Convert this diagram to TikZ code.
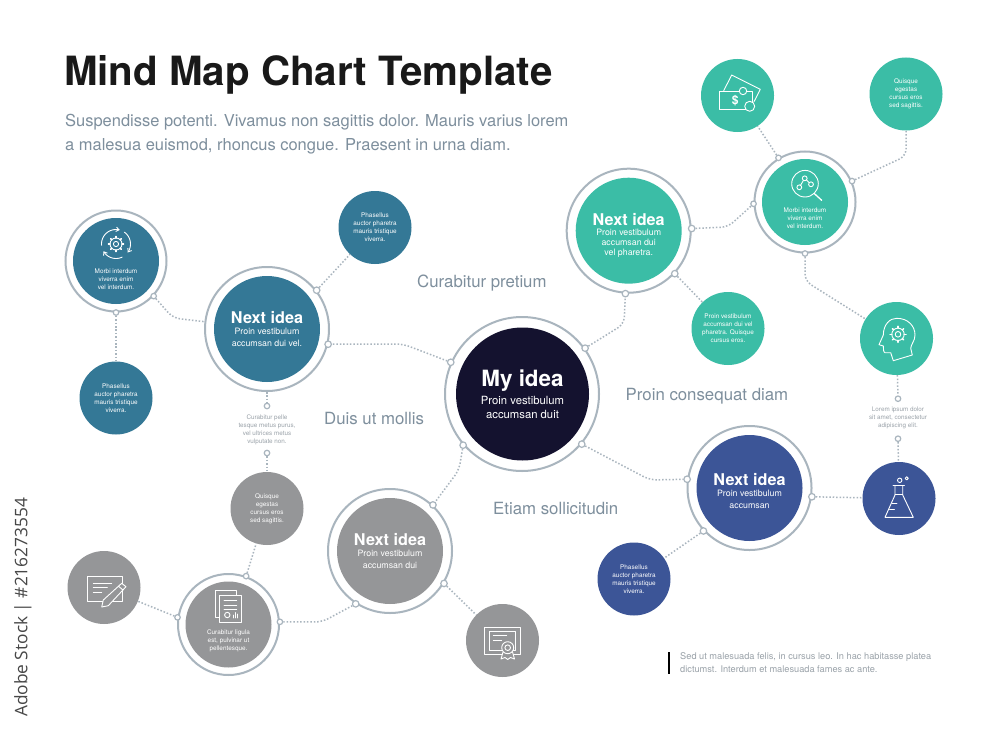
\documentclass[tikz,border=0pt]{standalone}
\usepackage{fontspec}
\setmainfont{TeX Gyre Heros}
\newfontfamily\stockfont{Open Sans}
\usetikzlibrary{positioning,calc,arrows.meta}

\definecolor{petrol}{HTML}{347896}
\definecolor{mint}{HTML}{3BBDA6}
\definecolor{stone}{HTML}{959698}
\definecolor{indigo}{HTML}{3C5597}
\definecolor{midnight}{HTML}{14122F}
\definecolor{ringgray}{HTML}{A9B5BE}
\definecolor{slate}{HTML}{7E8F9D}
\definecolor{captiongray}{HTML}{9AA2A9}
\newcommand{\ideahead}{\fontsize{16.2}{18}\bfseries\selectfont}

\begin{document}
\begin{tikzpicture}[
x=1pt,y=-1pt,
ringbig/.style={
circle,
inner sep=0pt,
minimum size=124pt,
line width=2pt,
draw=ringgray,
fill=white
},
ringsmall/.style={
ringbig,
minimum size=101pt
},
discbig/.style={
circle,
inner sep=0pt,
minimum size=106pt,
text=white,
align=center,
font=\fontsize{8.8}{11.5}\selectfont
},
discsmall/.style={
circle,
inner sep=0pt,
minimum size=73pt,
text=white,
align=center,
font=\fontsize{6.4}{8}\selectfont
},
discicon/.style={
discsmall,
minimum size=86pt
},
port/.style={
circle,
inner sep=0pt,
minimum size=6.5pt,
line width=1.2pt,
draw=ringgray,
fill=white
},
portsmall/.style={
port,
minimum size=5.5pt
},
link/.style={
draw=ringgray,
line width=1.5pt,
dash pattern=on 1.5pt off 1.9pt,
rounded corners=7pt
},
phrase/.style={
text=slate,
font=\fontsize{16.8}{19}\selectfont,
anchor=west,
inner sep=0pt
},
caption/.style={
text=captiongray,
align=center,
inner sep=0pt,
font=\fontsize{6.3}{8}\selectfont
},
icon/.style={
draw=white,
line width=0.9pt,
line join=round,
line cap=round
},
tip/.style={
-{Straight Barb[length=3pt,width=4.5pt]}
}]

\path[use as bounding box,fill=white] (0,0) rectangle (1000,733);

% heading
\node [anchor=west,inner sep=0pt,text=black!90,font=\fontsize{40.3}{44}\bfseries\selectfont] (title) at (64,75) {Mind Map Chart Template};
\node [anchor=north west,inner sep=0pt,text=slate,align=left,font=\fontsize{16.47}{24}\selectfont] (intro) at (65,114) {Suspendisse potenti. Vivamus non sagittis dolor. Mauris varius lorem\\a malesua euismod, rhoncus congue. Praesent in urna diam.};

% rings and discs
\node [ringbig,minimum size=154pt] (mainring) at (522,394) {};
\node [discbig,minimum size=133pt,fill=midnight,font=\fontsize{11.3}{14}\selectfont] (main) at (522.5,394) {{\fontsize{22.4}{25}\bfseries\selectfont My idea}\\[4pt]Proin vestibulum\\accumsan duit};

\node [ringbig] (petrolring) at (267,329) {};
\node [discbig,fill=petrol] (petrolidea) at (267,329) {{\ideahead Next idea}\\Proin vestibulum\\accumsan dui vel.};
\node [ringsmall] (cyclering) at (116,261) {};
\node [discicon,fill=petrol] (cycle) at (116,261) {};
\node [discsmall,fill=petrol] (phasa) at (375,227.5) {Phasellus\\auctor pharetra\\mauris tristique\\viverra.};
\node [discsmall,fill=petrol] (phasb) at (116,398) {Phasellus\\auctor pharetra\\mauris tristique\\viverra.};

\node [ringbig] (mintring) at (628.7,230.7) {};
\node [discbig,fill=mint,font=\fontsize{8.8}{10}\selectfont] (mintidea) at (628.7,230.7) {{\rule{0pt}{21pt}\ideahead Next idea}\\Proin vestibulum\\accumsan dui\\vel pharetra.};
\node [ringsmall] (searchring) at (805,202) {};
\node [discicon,fill=mint] (search) at (805,202) {};
\node [discsmall,fill=mint] (money) at (737.5,95.5) {};
\node [discsmall,fill=mint] (quisa) at (906,94) {Quisque\\egestas\\cursus eros\\sed sagittis.};
\node [discsmall,fill=mint] (proin) at (728,328.5) {Proin vestibulum\\accumsan dui vel\\pharetra. Quisque\\cursus eros.};
\node [discsmall,fill=mint] (head) at (896.5,338.5) {};

\node [ringbig] (indigoring) at (749.5,488) {};
\node [discbig,fill=indigo] (indigoidea) at (749.5,488) {{\rule{0pt}{18pt}\ideahead Next idea}\\Proin vestibulum\\accumsan};
\node [discsmall,fill=indigo] (flask) at (899,498.5) {};
\node [discsmall,fill=indigo] (phasc) at (634,579) {Phasellus\\auctor pharetra\\mauris tristique\\viverra.};

\node [ringbig] (stonering) at (390,551) {};
\node [discbig,fill=stone] (stoneidea) at (390,551) {{\ideahead Next idea}\\Proin vestibulum\\accumsan dui};
\node [ringsmall] (docring) at (228.5,624.5) {};
\node [discicon,fill=stone] (doc) at (228.5,624.5) {};
\node [discsmall,fill=stone] (quisb) at (267,508.5) {Quisque\\egestas\\cursus eros\\sed sagittis.};
\node [discsmall,fill=stone] (pen) at (104,587.5) {};
\node [discsmall,fill=stone] (cert) at (502.5,640.5) {};

% texts under the icons
\node [discsmall,minimum size=0pt] (cycletext) at (116,279.5) {Morbi interdum\\viverra enim\\vel interdum.};
\node [discsmall,minimum size=0pt] (searchtext) at (805,218.5) {Morbi interdum\\viverra enim\\vel interdum.};
\node [discsmall,minimum size=0pt] (doctext) at (228.5,641) {Curabitur ligula\\est, pulvinar ut\\pellentesque.};

% ports
\node [port] (mainp1) at (mainring.156.8) {};
\node [port] (mainp2) at (mainring.36) {};
\node [port] (mainp3) at (mainring.-40.8) {};
\node [port] (mainp4) at (mainring.-139) {};
\node [port] (petrolp1) at (petrolring.38.4) {};
\node [port] (petrolp2) at (petrolring.-14) {};
\node [portsmall] (cyclep1) at (cyclering.-43) {};
\node [portsmall] (cyclep2) at (cyclering.-90) {};
\node [port] (mintp1) at (mintring.2.5) {};
\node [port] (mintp2) at (mintring.-43.7) {};
\node [port] (mintp3) at (mintring.-93.5) {};
\node [portsmall] (searchp1) at (searchring.121) {};
\node [portsmall] (searchp2) at (searchring.24.5) {};
\node [portsmall] (searchp3) at (searchring.182) {};
\node [portsmall] (searchp4) at (searchring.-90) {};
\node [port] (indigop1) at (indigoring.172.6) {};
\node [port] (indigop2) at (indigoring.-8.3) {};
\node [port] (indigop3) at (indigoring.-137.3) {};
\node [port] (stonep1) at (stonering.-123.7) {};
\node [port] (stonep2) at (stonering.-31.6) {};
\node [port] (stonep3) at (stonering.47.6) {};
\node [portsmall] (docp1) at (docring.70.8) {};
\node [portsmall] (docp2) at (docring.172.7) {};
\node [portsmall] (docp3) at (docring.3) {};

% captions with their two ports
\node [portsmall] (capap) at (267,406) {};
\node [caption,below=5pt of capap] (capa) {Curabitur pelle\\tesque metus purus,\\vel ultrices metus\\vulputate non.};
\node [portsmall] (capaq) at (267,453) {};
\node [portsmall] (capbp) at (898,398.7) {};
\node [caption,below=5pt of capbp] (capb) {Lorem ipsum dolor\\sit amet, consectetur\\adipiscing elit.};
\node [portsmall] (capbq) at (898,438.7) {};

% connectors
\draw[link] (mainp1) -- (403,344) -- (petrolp2);
\draw[link] (mainp2) -- (624,324) -- (mintp3);
\draw[link] (mainp3) -- (650,480) -- (indigop1);
\draw[link] (mainp4) -- (459,470) -- (stonep3);

\draw[link] (cyclep1) -- (173,318) -- (petrolring);
\draw[link] (petrolp1) -- (phasa);
\draw[link] (cyclep2) -- (phasb);
\draw[link] (petrolring) -- (capap);
\draw[link] (capaq) -- (quisb);

\draw[link] (mintp1) -- (728,227) -- (searchp3);
\draw[link] (mintp2) -- (proin);
\draw[link] (searchp1) -- (money);
\draw[link] (searchp2) -- (906,156) -- (quisa);
\draw[link] (searchp4) -- (805,281) -- (head);
\draw[link] (head) -- (capbp);
\draw[link] (capbq) -- (flask);

\draw[link] (indigop2) -- (flask);
\draw[link] (indigop3) -- (phasc);

\draw[link] (stonep1) -- (322,622) -- (docp3);
\draw[link] (stonep2) -- (cert);
\draw[link] (docp1) -- (quisb);
\draw[link] (docp2) -- (pen);

% phrases
\node [phrase] (phrasea) at (417,283.5) {Curabitur pretium};
\node [phrase] (phraseb) at (625.5,396) {Proin consequat diam};
\node [phrase] (phrasec) at (324,418.5) {Duis ut mollis};
\node [phrase] (phrased) at (493,508) {Etiam sollicitudin};

% footnote
\node [anchor=north west,inner sep=0pt,text=captiongray,align=left,font=\fontsize{9.23}{13}\selectfont] (note) at (680,652.5) {Sed ut malesuada felis, in cursus leo. In hac habitasse platea\\dictumst. Interdum et malesuada fames ac ante.};
\coordinate (bara) at (669,652);
\coordinate (barb) at (669,674);
\draw[line width=1.3pt,black] (bara) -- (barb);

% stock line
\node [rotate=90,anchor=west,inner sep=0pt,text=black!72,font=\stockfont\fontsize{17.3}{19}\selectfont] (stock) at (23,717) {Adobe Stock | \#216273554};

% cycle icon
\begin{scope}[shift={(116,244)},icon]
\draw (0,0) circle[radius=2.6];
\draw (0,0) circle[radius=6];
\foreach \a in {0,45,...,315} \draw[line width=1.5pt] (\a:6) -- (\a:7.6);
\draw[tip] plot[domain=175:285,samples=16] (\x:14.5);
\draw[tip] plot[domain=-55:36,samples=14] (\x:14.5);
\draw[tip] plot[domain=65:150,samples=14] (\x:14.5);
\end{scope}

% money icon
\begin{scope}[icon]
\draw (723.7,90.7) -- (731.7,75) -- (760.3,89.3) -- (754,101.7);
\draw[fill=mint] (719.3,91) rectangle (752.3,109.3);
\draw[fill=mint] (743,91) circle[radius=3.7];
\draw[fill=mint] (749.7,106.3) circle[radius=5];
\node [draw=none,inner sep=0pt,text=white,font=\fontsize{12}{12}\bfseries\selectfont] (dollar) at (735.3,100.3) {\$};
\end{scope}

% search icon
\begin{scope}[icon]
\draw (805,183.7) circle[radius=13.3];
\draw[line width=1.3pt] (814,193.3) -- (821.7,200.3);
\draw (799.3,187.3) -- (804.7,178.3) -- (811,184.3);
\draw[fill=mint] (799.3,187.3) circle[radius=2.4];
\draw[fill=mint] (804.7,178.3) circle[radius=2.4];
\draw[fill=mint] (811,184.3) circle[radius=2.4];
\end{scope}

% head icon
\begin{scope}[icon]
\draw (893.3,360.7) -- (890.7,352.7) -- (885,352.7) .. controls (883.5,352.5) and (883.3,349) .. (883.3,346) -- (879,344.7) -- (883.3,335)
.. controls (883.5,324) and (890,318.3) .. (896.7,318.3) .. controls (908,318.3) and (915,326) .. (915,335)
.. controls (915,341) and (911,344) .. (910.7,348.3) -- (912.3,355) -- cycle;
\draw (898,334.3) circle[radius=2.8];
\draw (898,334.3) circle[radius=6.2];
\foreach \a in {0,45,...,315} \draw[line width=1.5pt] ($(898,334.3)+(\a:6.2)$) -- ($(898,334.3)+(\a:8)$);
\end{scope}

% flask icon
\begin{scope}[icon]
\draw (893,485.7) -- (904.5,485.7);
\draw (895,485.7) -- (895,495) -- (885,517.3) -- (913.3,517.3) -- (902.7,495) -- (902.7,485.7);
\draw (895,494.3) -- (902.7,494.3);
\draw (892,503.5) -- (897,503.5);
\draw (889.5,509) -- (894.5,509);
\draw (899.7,480.3) circle[radius=2.2];
\draw (906.7,478.3) circle[radius=1.6];
\end{scope}

% pen icon
\begin{scope}[icon]
\draw (87.3,576.7) rectangle (122.7,601);
\draw (93.3,583.3) -- (111.7,583.3);
\draw (93.3,587.7) -- (107.3,587.7);
\draw (93.3,592.3) -- (101.7,592.3);
\draw[fill=stone] (101.7,607) -- (103.3,600) -- (121.7,583.3) -- (126,586.7) -- (108.3,605.7) -- cycle;
\draw (118.5,586.2) -- (123,590);
\end{scope}

% document icon
\begin{scope}[icon]
\draw (219.3,617.3) -- (215,617.3) -- (215,590.7) -- (236.7,590.7) -- (236.7,595);
\draw (219.3,595) rectangle (241.7,622.3);
\draw (224,600.7) -- (236.7,600.7);
\draw (224,605) -- (236.7,605);
\draw (224,609.7) -- (236.7,609.7);
\draw (227.3,615) circle[radius=2.7];
\draw (233,618) -- (233,615);
\draw (235.3,618) -- (235.3,612.5);
\draw (237.6,618) -- (237.6,614);
\end{scope}

% certificate icon
\begin{scope}[icon]
\draw (484.7,627.7) rectangle (520,654.3);
\draw (489,631.7) rectangle (515.7,650);
\draw (493.3,635.7) -- (506.7,635.7);
\draw (493.3,640) -- (501.7,640);
\draw[fill=stone] (503,652) -- (501,659) -- (505,657.5) -- (507.7,659.5) -- (510.5,657.5) -- (514.5,659) -- (512.5,652) -- cycle;
\draw[fill=stone] (507.7,647.7) circle[radius=6];
\draw (507.7,647.7) circle[radius=2.8];
\end{scope}

\end{tikzpicture}
\end{document}
